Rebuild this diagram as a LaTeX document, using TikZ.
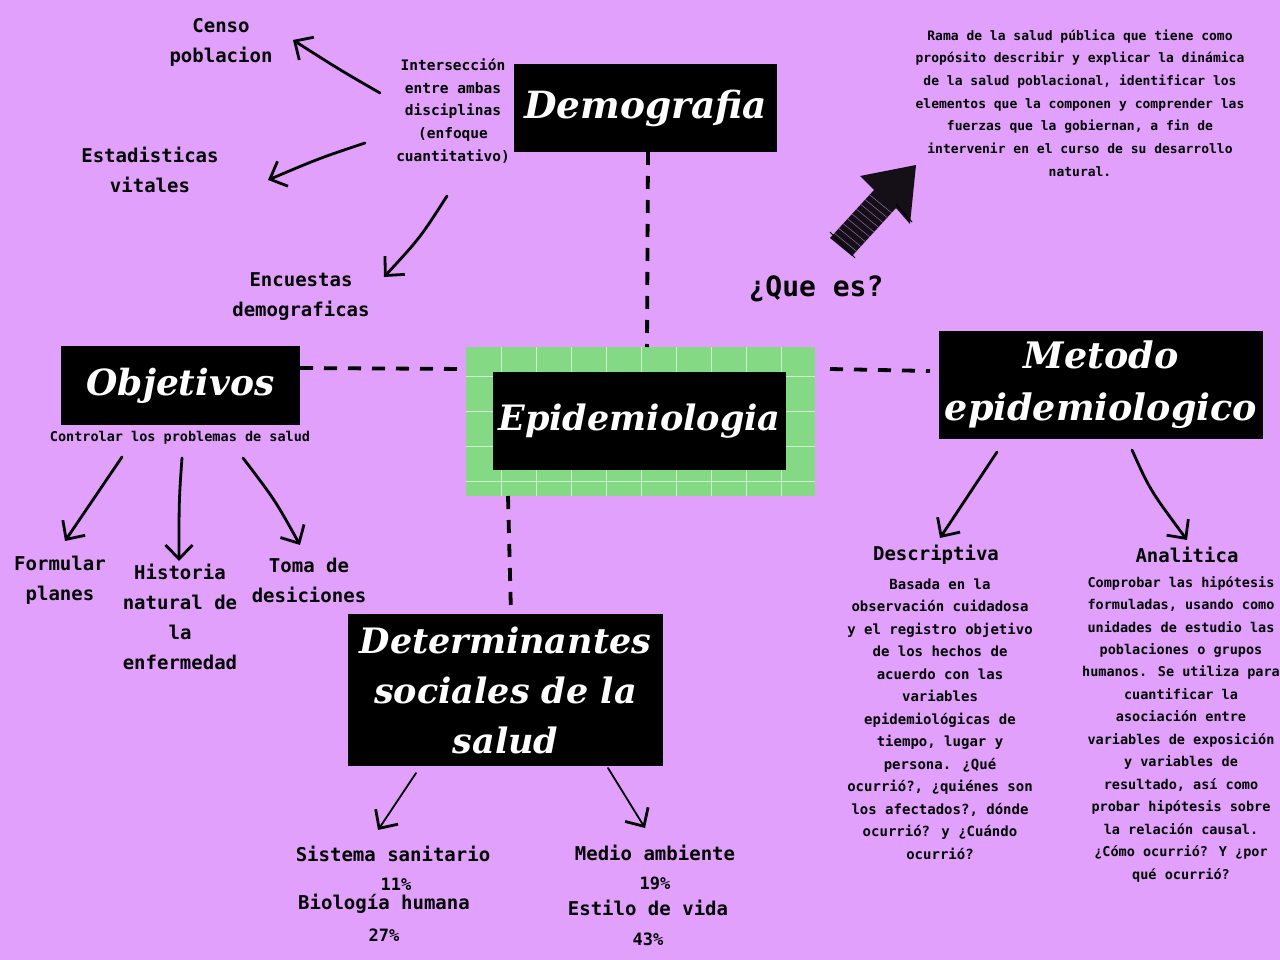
\documentclass[tikz,border=0pt]{standalone}
\usepackage{fontspec}
\setmainfont{DejaVu Sans Mono}
\newfontfamily\ttlfont{DejaVu Serif}
\usetikzlibrary{arrows.meta,calc}
\definecolor{bg}{RGB}{224,160,252}
\definecolor{grn}{RGB}{132,218,132}
\tikzset{
 titlebox/.style={fill=black,text=white,font=\ttlfont\bfseries\itshape\fontsize{36}{50}\selectfont,inner sep=0pt,align=center},
 lbl/.style={font=\bfseries\fontsize{19}{30}\selectfont,align=center,inner sep=0pt},
 pct/.style={font=\bfseries\fontsize{17}{20}\selectfont,align=center,inner sep=0pt},
 small/.style={font=\bfseries\fontsize{13.5}{22.5}\selectfont,align=center,inner sep=0pt},
 link/.style={line width=3.8pt,dash pattern=on 13pt off 11pt},
 arr/.style={line width=2.8pt,line cap=round,-{Straight Barb[length=14pt,width=27pt,line width=2.8pt]}},
}
\begin{document}
\begin{tikzpicture}[x=1pt,y=-1pt]
\fill[bg] (0,0) rectangle (1280,960);
\useasboundingbox (0,0) rectangle (1280,960);

% title boxes
\node[titlebox,minimum width=263pt,minimum height=88pt,font=\ttlfont\bfseries\itshape\fontsize{37.5}{50}\selectfont] (demo) at (645.5,108) {Demografia};
\node[titlebox,minimum width=239pt,minimum height=79pt] (obj) at (180.5,385.5) {Objetivos};
\node[fill=grn,minimum width=349pt,minimum height=149pt,inner sep=0pt] (green) at (640.5,421.5) {};
\foreach \k in {0,...,8} \draw[white,opacity=0.6,line width=1.2pt] (501.7+35*\k,347) -- (501.7+35*\k,496);
\foreach \k in {0,...,3} \draw[white,opacity=0.6,line width=1.2pt] (466,376.7+35*\k) -- (815,376.7+35*\k);
\node[titlebox,minimum width=293pt,minimum height=98pt,font=\ttlfont\bfseries\itshape\fontsize{35}{50}\selectfont] (epi) at (639.5,421) {Epidemiologia};
\node[titlebox,minimum width=324pt,minimum height=108pt,font=\ttlfont\bfseries\itshape\fontsize{36.5}{52}\selectfont] (met) at (1101,385) {Metodo\\epidemiologico};
\node[titlebox,minimum width=315pt,minimum height=152pt,font=\ttlfont\bfseries\itshape\fontsize{35}{50}\selectfont] (det) at (505.5,690) {Determinantes\\sociales de la\\salud};

% dashed links
\coordinate (d1) at (648,152); \coordinate (d2) at (647,347);
\draw[link] (d1) -- (d2);
\coordinate (o1) at (300,368); \coordinate (o2) at (466,369);
\draw[link] (o1) -- (o2);
\coordinate (m1) at (830,369); \coordinate (m2) at (930,371);
\draw[link] (m1) -- (m2);
\coordinate (s1) at (508,496); \coordinate (s2) at (511,614);
\draw[link] (s1) -- (s2);

% texts
\node[lbl] (censo) at (221,42) {Censo\\poblacion};
\node[lbl] (estad) at (150,170) {Estadisticas\\vitales};
\node[lbl] (encu) at (301,297) {Encuestas\\demograficas};
\node[small,font=\bfseries\fontsize{14.5}{22.8}\selectfont] (inter) at (453,111) {Intersección\\entre ambas\\disciplinas\\(enfoque\\cuantitativo)};
\node[lbl,font=\bfseries\fontsize{28}{30}\selectfont] (que) at (816,289) {¿Que es?};
\node[small,font=\bfseries\fontsize{13}{22.7}\selectfont] (def) at (1080,103) {Rama de la salud pública que tiene como\\propósito describir y explicar la dinámica\\de la salud poblacional, identificar los\\elementos que la componen y comprender las\\fuerzas que la gobiernan, a fin de\\intervenir en el curso de su desarrollo\\natural.};
\node[small] (ctrl) at (180,438) {Controlar los problemas de salud};
\node[lbl] (form) at (60,580) {Formular\\planes};
\node[lbl] (hist) at (180,617) {Historia\\natural de\\la\\enfermedad};
\node[lbl] (toma) at (309,580) {Toma de\\desiciones};
\node[lbl] (descr) at (936,555) {Descriptiva};
\node[small,font=\bfseries\fontsize{14}{22.5}\selectfont] (descp) at (940,719) {Basada en la\\observación cuidadosa\\y el registro objetivo\\de los hechos de\\acuerdo con las\\variables\\epidemiológicas de\\tiempo, lugar y\\persona. ¿Qué\\ocurrió?, ¿quiénes son\\los afectados?, dónde\\ocurrió? y ¿Cuándo\\ocurrió?};
\node[lbl] (anal) at (1187,555) {Analitica};
\node[small,font=\bfseries\fontsize{13.5}{22.46}\selectfont] (analp) at (1181,729) {Comprobar las hipótesis\\formuladas, usando como\\unidades de estudio las\\poblaciones o grupos\\humanos. Se utiliza para\\cuantificar la\\asociación entre\\variables de exposición\\y variables de\\resultado, así como\\probar hipótesis sobre\\la relación causal.\\¿Cómo ocurrió? Y ¿por\\qué ocurrió?};
\node[lbl] (sist) at (393,854) {Sistema sanitario};
\node[pct] (p11) at (396,884) {11\%};
\node[lbl] (bio) at (384,904) {Biología humana};
\node[pct] (p27) at (384,935) {27\%};
\node[lbl] (medio) at (655,853) {Medio ambiente};
\node[pct] (p19) at (655,883) {19\%};
\node[lbl] (estilo) at (648,908) {Estilo de vida};
\node[pct] (p43) at (648,939) {43\%};

% arrows
\coordinate (a1s) at (380,93); \coordinate (a1e) at (293,40);
\draw[arr] (a1s) .. controls (340,70) .. (a1e);
\coordinate (a2s) at (365,143); \coordinate (a2e) at (268,180);
\draw[arr] (a2s) .. controls (320,158) .. (a2e);
\coordinate (a3s) at (447,196); \coordinate (a3e) at (384,277);
\draw[arr] (a3s) .. controls (420,238) .. (a3e);
\coordinate (b1s) at (122,457); \coordinate (b1e) at (65,541);
\draw[arr] (b1s) -- (b1e);
\coordinate (b2s) at (182,458); \coordinate (b2e) at (179,561);
\draw[arr] (b2s) .. controls (179,500) .. (b2e);
\coordinate (b3s) at (243,458); \coordinate (b3e) at (300,545);
\draw[arr] (b3s) .. controls (275,500) .. (b3e);
\coordinate (c1s) at (997,452); \coordinate (c1e) at (940,538);
\draw[arr] (c1s) -- (c1e);
\coordinate (c2s) at (1132,450); \coordinate (c2e) at (1187,540);
\draw[arr] (c2s) .. controls (1150,490) .. (c2e);
\coordinate (e1s) at (416,773); \coordinate (e1e) at (378,830);
\draw[arr,line width=1.8pt] (e1s) -- (e1e);
\coordinate (e2s) at (608,768); \coordinate (e2e) at (645,828);
\draw[arr,line width=1.8pt] (e2s) -- (e2e);

% big sketched arrow
\fill[black,opacity=0.9] (830,238) -- (874,190) -- (860,176) -- (916,165) -- (910,224) -- (896,208) -- (852,256) -- cycle;
\foreach \t in {0.1,0.2,...,0.9} \draw[bg!60!black,line width=0.6pt] ($(830,238)!\t!(874,190)$) -- ($(852,256)!\t!(896,208)$);
\draw[black,line width=1pt] (830,232) -- (855,258);
\draw[black,line width=1pt] (896,204) -- (912,222);
\end{tikzpicture}
\end{document}
